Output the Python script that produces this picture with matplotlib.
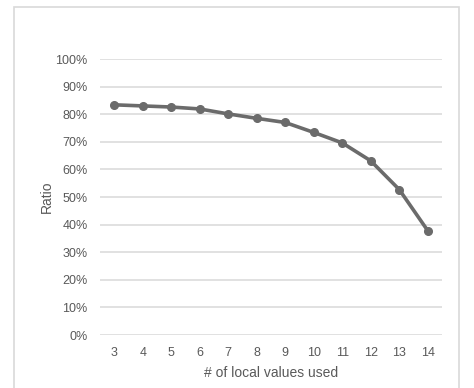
import matplotlib
matplotlib.use("Agg")
import matplotlib.pyplot as plt
from matplotlib.patches import Rectangle
from matplotlib.ticker import FuncFormatter

# data
local_values = [3, 4, 5, 6, 7, 8, 9, 10, 11, 12, 13, 14]
ratio = [0.834, 0.830, 0.826, 0.819, 0.801, 0.785, 0.770, 0.734, 0.696, 0.631, 0.527, 0.378]
y_ticks = [0.0, 0.1, 0.2, 0.3, 0.4, 0.5, 0.6, 0.7, 0.8, 0.9, 1.0]

W, H = 474, 388
fig = plt.figure(figsize=(W / 100, H / 100), dpi=100)
plt.rcParams['font.family'] = ['Liberation Sans', 'DejaVu Sans']

# chart area border (cut at the bottom in the reference)
fig.patches.append(Rectangle((14 / W, -0.05), (459 - 14) / W, 1.05 - 7 / H,
                             transform=fig.transFigure, fill=False,
                             edgecolor='#d9d9d9', linewidth=1.2))

ax = fig.add_axes([100 / W, 1 - 335 / H, (442 - 100) / W, (335 - 59) / H])

text_col = '#595959'
ax.set_xlim(2.5, 14.5)
ax.set_ylim(0, 1.0)
ax.set_yticks(y_ticks)
ax.yaxis.set_major_formatter(FuncFormatter(lambda v, p: f"{v * 100:.0f}%"))
ax.set_xticks(local_values)

ax.grid(axis='y', color='#d9d9d9', linewidth=1.1)
ax.set_axisbelow(True)
for s in ax.spines.values():
    s.set_visible(False)
ax.tick_params(length=0, colors=text_col, labelsize=9)
ax.tick_params(axis='y', pad=9)
ax.tick_params(axis='x', pad=8.5)

ax.plot(local_values, ratio, color='#6b6b6b', linewidth=2.6,
        marker='o', markersize=5.5, clip_on=False)

ax.set_xlabel('# of local values used', color=text_col, fontsize=10, labelpad=5)
ax.set_ylabel('Ratio', color=text_col, fontsize=10, labelpad=1)

fig.savefig('out.png', dpi=100, facecolor='white')
